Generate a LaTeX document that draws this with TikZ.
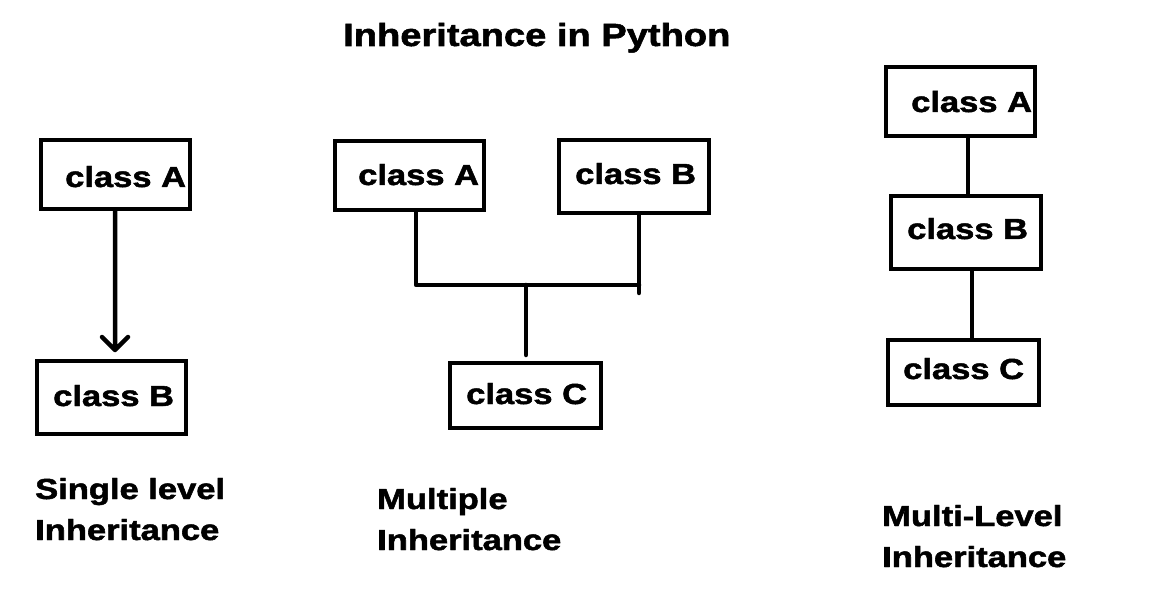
\documentclass[tikz,border=0pt]{standalone}
\usepackage{fontspec}
\usepackage{graphicx}
\setmainfont{Liberation Sans}[BoldFeatures={FakeBold=1.6}]
\newcommand{\wide}[1]{\scalebox{1.19}[1]{#1}}
\begin{document}
\begin{tikzpicture}[x=1pt,y=-1pt,
  box/.style={draw=black, line width=4.5pt, inner sep=0pt, fill=white},
  boxtext/.style={anchor=base west, inner sep=0pt, font=\bfseries\fontsize{29}{29}\selectfont},
  caption/.style={anchor=base west, inner sep=0pt, align=left, font=\bfseries\fontsize{29}{41}\selectfont},
  conn/.style={line width=4.5pt, line cap=round, line join=round}]
\fill[white] (0,0) rectangle (1152,604);
\useasboundingbox (0,0) rectangle (1152,604);

% title
\node[anchor=base west, inner sep=0pt, font=\bfseries\fontsize{32}{32}\selectfont] (title) at (343,46) {\wide{Inheritance in Python}};

% single level
\node[box, minimum width=149pt, minimum height=69pt] (sA) at (115.5,174.5) {};
\node[boxtext] (sAt) at (65,187) {\wide{class A}};
\node[box, minimum width=149pt, minimum height=73pt] (sB) at (111.5,397.5) {};
\node[boxtext] (sBt) at (53,406) {\wide{class B}};
\coordinate (stip) at (115,350);
\draw[conn] (sA.south -| stip) -- (stip) ++(-13,-13) -- (stip) -- ++(13,-13);
\node[caption] (scap) at (35,540) {\wide{Single level}\\\wide{Inheritance}};

% multiple
\node[box, minimum width=149pt, minimum height=69pt] (mA) at (409.5,175.5) {};
\node[boxtext] (mAt) at (358,185) {\wide{class A}};
\node[box, minimum width=150pt, minimum height=73pt] (mB) at (634,176.5) {};
\node[boxtext] (mBt) at (575,184) {\wide{class B}};
\node[box, minimum width=151pt, minimum height=65pt] (mC) at (525.5,395.5) {};
\node[boxtext] (mCt) at (466,404) {\wide{class C}};
\coordinate (jl) at (416,285);
\coordinate (jr) at (639,285);
\coordinate (jre) at (639,293);
\coordinate (jm) at (526,285);
\coordinate (jme) at (526,355);
\draw[conn] (mA.south -| jl) -- (jl) -- (jr);
\draw[conn] (mB.south -| jr) -- (jre);
\draw[conn] (jm) -- (jme);
\node[caption] (mcap) at (377,550) {\wide{Multiple}\\\wide{Inheritance}};

% multi-level
\node[box, minimum width=149pt, minimum height=69pt] (lA) at (960.5,101.5) {};
\node[boxtext] (lAt) at (911,112) {\wide{class A}};
\node[box, minimum width=150pt, minimum height=73pt] (lB) at (966,232.5) {};
\node[boxtext] (lBt) at (907,239) {\wide{class B}};
\node[box, minimum width=151pt, minimum height=65pt] (lC) at (963.5,372.5) {};
\node[boxtext] (lCt) at (903,379) {\wide{class C}};
\coordinate (lx1) at (968,0);
\coordinate (lx2) at (972,0);
\draw[conn] (lA.south -| lx1) -- (lB.north -| lx1);
\draw[conn] (lB.south -| lx2) -- (lC.north -| lx2);
\node[caption] (lcap) at (882,567) {\wide{Multi-Level}\\\wide{Inheritance}};
\end{tikzpicture}
\end{document}
